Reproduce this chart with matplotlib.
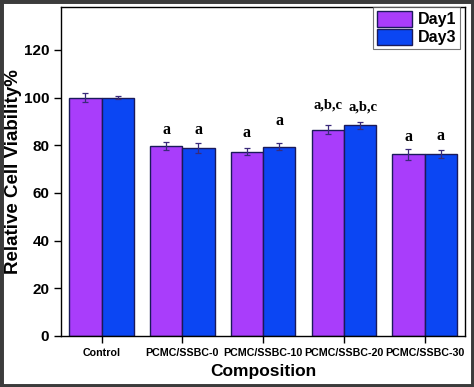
import matplotlib
matplotlib.use("Agg")
import matplotlib.pyplot as plt
import numpy as np
from matplotlib.patches import Rectangle

categories = ["Control", "PCMC/SSBC-0", "PCMC/SSBC-10", "PCMC/SSBC-20", "PCMC/SSBC-30"]
day1 = [100.0, 79.6, 77.3, 86.4, 76.2]
day3 = [100.0, 78.9, 79.4, 88.4, 76.4]
day1_err = [1.8, 1.8, 1.4, 1.9, 2.2]
day3_err = [0.8, 2.0, 1.4, 1.5, 1.8]
day1_marks = ["", "a", "a", "a,b,c", "a"]
day3_marks = ["", "a", "a", "a,b,c", "a"]
day1_mark_y = [None, 86.5, 85.3, 96.8, 83.5]
day3_mark_y = [None, 86.5, 90.0, 96.0, 84.0]
yticks = [0, 20, 40, 60, 80, 100, 120]

fig = plt.figure(figsize=(4.74, 3.87), dpi=100)
fig.patch.set_facecolor("white")
ax = fig.add_axes([0.129, 0.132, 0.852, 0.850])

x = np.arange(len(categories))
w = 0.4
ekw = dict(ecolor="#3a2a7a", elinewidth=0.9, capsize=2.5, capthick=0.9)
ax.bar(x - w/2, day1, w, yerr=day1_err, color="#A93DFB", edgecolor="#1a1a5a",
       linewidth=1.0, label="Day1", error_kw=ekw)
ax.bar(x + w/2, day3, w, yerr=day3_err, color="#0B46F3", edgecolor="#1a1a5a",
       linewidth=1.0, label="Day3", error_kw=ekw)

for i in range(len(categories)):
    fs1 = 10.5 if len(day1_marks[i]) > 1 else 11.5
    fs3 = 10.5 if len(day3_marks[i]) > 1 else 11.5
    dx3 = 0.04 if len(day3_marks[i]) > 1 else 0.0
    if day1_marks[i]:
        ax.text(x[i] - w/2, day1_mark_y[i], day1_marks[i], ha="center", va="center",
                fontsize=fs1, fontweight="bold", family="Liberation Serif")
    if day3_marks[i]:
        ax.text(x[i] + w/2 + dx3, day3_mark_y[i], day3_marks[i], ha="center", va="center",
                fontsize=fs3, fontweight="bold", family="Liberation Serif")

ax.set_xlim(-0.5, 4.5)
ax.set_ylim(0, 138)
ax.set_yticks(yticks)
ax.set_yticklabels([str(v) for v in yticks], fontsize=11, fontweight="bold",
                   family="Liberation Sans")
ax.set_xticks(x)
ax.set_xticklabels(categories, fontsize=7.7, fontweight="bold", family="Liberation Sans")
ax.tick_params(axis="both", direction="out", length=5, width=1)
ax.tick_params(axis="x", pad=4)
ax.set_ylabel("Relative Cell Viability%", fontsize=13.5, fontweight="bold",
              family="Liberation Sans", labelpad=1)
ax.set_xlabel("Composition", fontsize=12.5, fontweight="bold",
              family="Liberation Sans", labelpad=4)
for s in ax.spines.values():
    s.set_linewidth(1.0)

leg = ax.legend(loc="upper right", prop=dict(family="Liberation Sans", weight="bold", size=11.5),
                frameon=True, fancybox=False, edgecolor="#555555", handlelength=2.2,
                handleheight=1.15, borderaxespad=0.0, labelspacing=0.1, handletextpad=0.35,
                borderpad=0.25, bbox_to_anchor=(0.988, 1.0))
leg.get_frame().set_linewidth(0.8)

fig.add_artist(Rectangle((0, 0), 1, 1, transform=fig.transFigure, fill=False,
                         edgecolor="#3c3c3c", linewidth=5))

fig.savefig("out.png", dpi=100)
